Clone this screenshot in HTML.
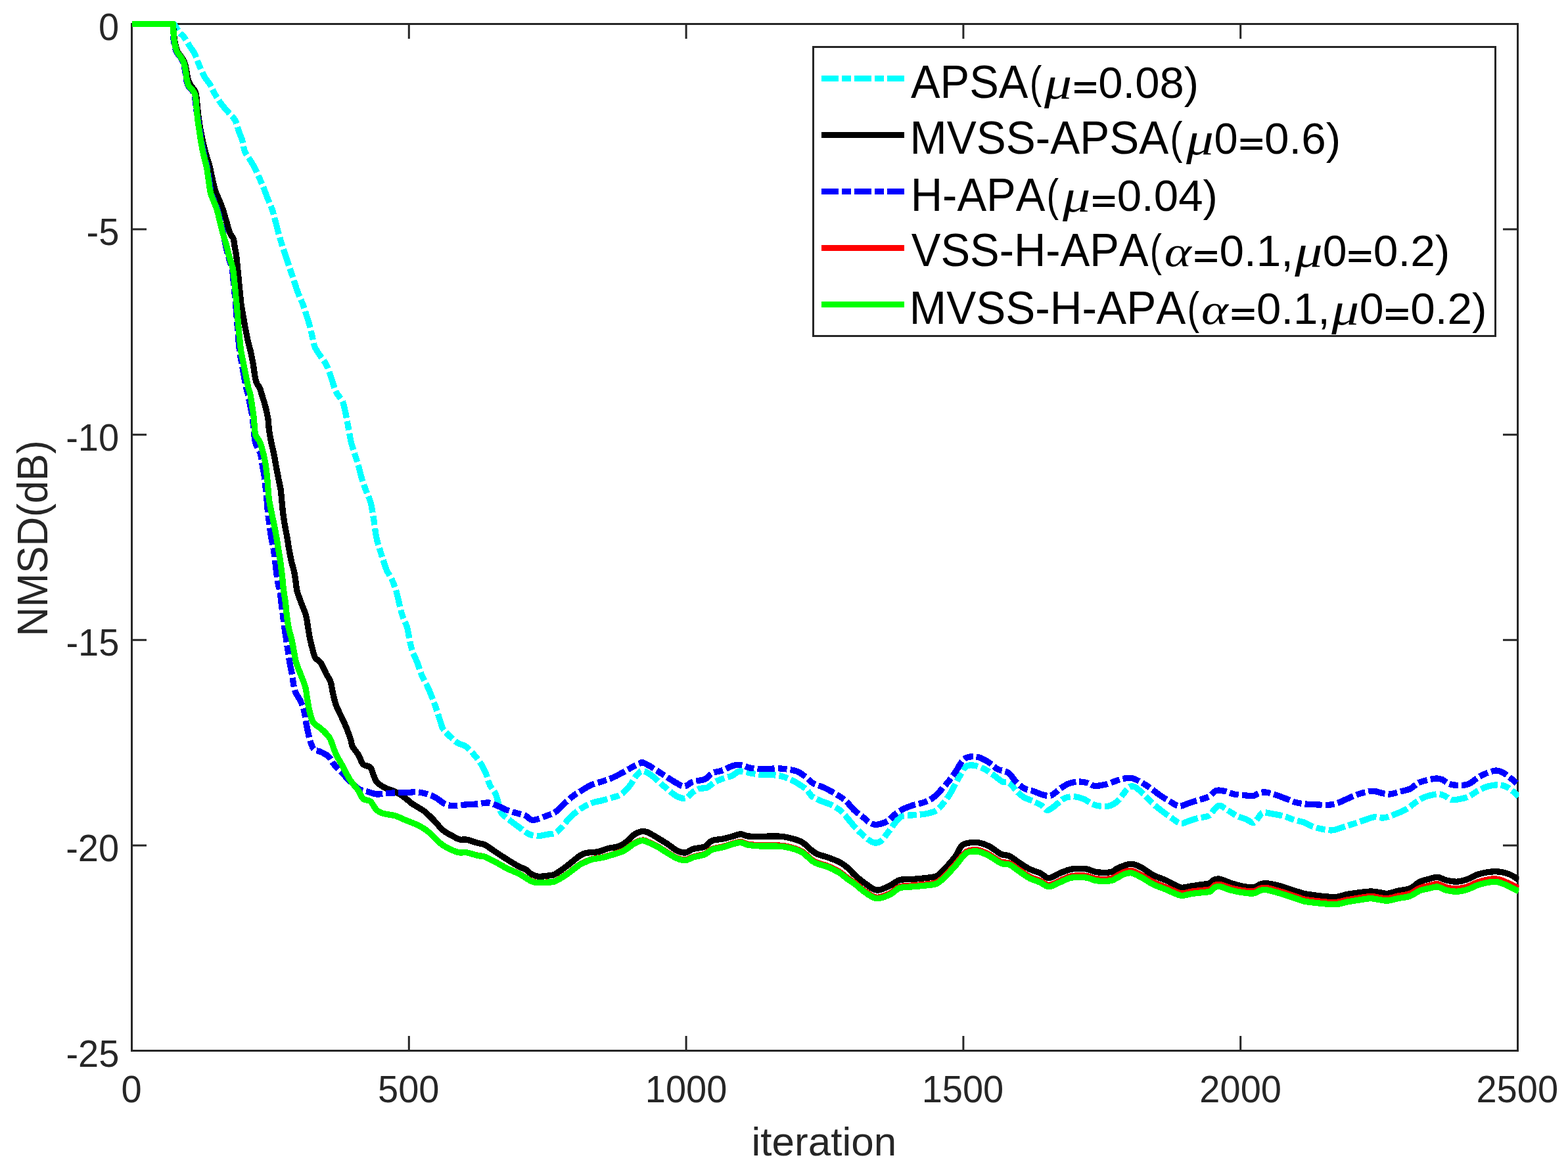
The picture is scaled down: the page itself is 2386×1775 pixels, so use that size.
<!DOCTYPE html>
<html lang="en"><head><meta charset="utf-8"><title>NMSD learning curves</title>
<style>html,body{margin:0;padding:0;background:#fff}body{width:2386px;height:1775px;overflow:hidden}svg{display:block}text{font-kerning:none;white-space:pre}.t{font-family:"Liberation Sans",sans-serif;fill:#262626}.lg{font-family:"Liberation Sans",sans-serif;fill:#000}.m{font-family:"Liberation Serif","DejaVu Serif",serif;font-style:italic;fill:#000}.e{font-family:"DejaVu Sans","Liberation Sans",sans-serif;fill:#000}.c{fill:none;stroke-width:9.3;stroke-linejoin:round;stroke-linecap:butt}</style></head><body>
<svg width="2386" height="1775" viewBox="0 0 2386 1775" role="img" aria-label="NMSD learning curves">
<rect x="0" y="0" width="2386" height="1775" fill="#fff"/>
<g stroke="#262626" stroke-width="3" fill="none" stroke-linecap="butt">
<rect x="200.5" y="36.5" width="2109" height="1563"/>
<path d="M622.3 1599.5V1577M622.3 36.5V59M1044.1 1599.5V1577M1044.1 36.5V59M1465.9 1599.5V1577M1465.9 36.5V59M1887.7 1599.5V1577M1887.7 36.5V59M200.5 349.1H223M2309.5 349.1H2287M200.5 661.7H223M2309.5 661.7H2287M200.5 974.3H223M2309.5 974.3H2287M200.5 1286.9H223M2309.5 1286.9H2287"/>
</g>
<clipPath id="cp"><rect x="199.5" y="30.5" width="2112" height="1575"/></clipPath>
<g clip-path="url(#cp)" shape-rendering="crispEdges">
<path class="c" stroke="#00ffff" stroke-dasharray="26 5 14 5" d="M200.5 36.5 L265 36.5C266.3 38.6 270.1 45.7 272.6 49C275.1 52.3 277.2 52.7 279.9 56.3C282.6 59.9 286.2 66.6 289 70.8C291.7 75 294 77.2 296.2 81.7C298.5 86.2 300.2 92.3 302.6 98C305 103.8 307.9 111.1 310.8 116.2C313.6 121.3 317.1 124.4 319.8 128.9C322.6 133.5 324.1 138.3 327.1 143.4C330.1 148.6 334.4 154.9 338 159.8C341.6 164.6 345.6 168.6 348.9 172.5C352.2 176.4 355.5 178.8 358 183.4C360.4 187.9 361.6 194.6 363.4 199.7C365.2 204.9 367.3 209.1 368.9 214.3C370.4 219.4 370.4 225.5 372.5 230.6C374.6 235.7 378.8 240.6 381.6 245.1C384.3 249.7 386.4 253 388.8 257.8C391.3 262.7 394 269.3 396.1 274.2C398.2 279 399.8 282.6 401.5 286.9C403.3 291.2 404.4 294.8 406.4 300C408.5 305.2 411.8 312.1 413.9 318.2C416 324.2 417.3 330.3 419 336.3C420.6 342.4 422 348.4 423.7 354.5C425.4 360.5 427.2 366.6 429.1 372.6C431 378.7 433.1 384.7 435.1 390.8C437.1 396.8 439.1 402.9 441.1 408.9C443.2 415 445.3 421 447.3 427.1C449.3 433.2 451 439.2 453.3 445.3C455.6 451.3 458.6 457.4 460.9 463.4C463.2 469.5 465 475.5 466.9 481.6C468.8 487.6 470.8 493.7 472.4 499.7C473.9 505.8 475.2 513 476.4 517.9C477.5 522.7 477.7 525.1 479.3 528.8C480.9 532.4 483.2 535.4 486 539.7C488.8 543.9 493.1 548.8 496 554.2C498.8 559.6 501 566.3 503.2 572.4C505.4 578.4 507.3 585.9 509 590.5C510.7 595.1 511.3 596.6 513.3 600C515.4 603.4 519.1 606.4 521.2 610.9C523.2 615.4 524.2 621.5 525.5 627.2C526.8 633 527.7 637.8 529.1 645.4C530.6 653 532.5 665.1 534.2 672.6C536 680.2 537.8 684.7 539.7 690.8C541.5 696.8 543.7 702.9 545.5 708.9C547.2 715 548.4 721 550.2 727.1C552 733.2 554.1 739.2 556.4 745.3C558.6 751.3 562 758.6 563.6 763.4C565.2 768.3 565.2 769.8 566 774.3C566.8 778.8 567.6 783.4 568.7 790.6C569.8 797.9 571.2 810.3 572.7 817.9C574.2 825.5 576 830 577.8 836C579.6 842.1 581.8 848.8 583.6 854.2C585.4 859.6 586.6 864.2 588.7 868.7C590.8 873.3 593.6 876.2 596 881.4C598.3 886.6 601.1 893.9 603 900C604.9 906.1 605.8 912.1 607.4 918.2C608.9 924.2 610.1 930.3 612.1 936.3C614.1 942.4 617.5 948.4 619.3 954.5C621.2 960.5 621.6 966.6 623 972.6C624.3 978.7 625.3 984.7 627.3 990.8C629.4 996.8 632.8 1002.9 635.1 1008.9C637.5 1015 638.9 1021 641.5 1027.1C644.1 1033.2 647.8 1039.2 650.6 1045.3C653.4 1051.3 655.8 1057.4 658.2 1063.4C660.6 1069.5 662.7 1075.5 664.7 1081.6C666.8 1087.6 669 1095.2 670.5 1099.7C672.1 1104.3 672 1105.8 673.8 1108.8C675.6 1111.8 677.7 1114.2 681.4 1117.9C685.1 1121.6 691.5 1127.8 696.1 1130.9C700.7 1134 704.6 1133.3 708.8 1136.3C713 1139.4 717.6 1144.5 721.5 1149.1C725.5 1153.6 729.4 1158.7 732.4 1163.6C735.4 1168.4 737.6 1173 739.7 1178.1C741.8 1183.2 742.7 1189.3 745.1 1194.4C747.5 1199.6 751.8 1203.5 754.2 1209C756.6 1214.4 758.1 1222.3 759.6 1227.1C761.2 1232 760.6 1234.4 763.3 1238C766 1241.7 771.4 1245.3 776 1248.9C780.5 1252.5 785.7 1256.3 790.5 1259.8C795.4 1263.3 800.2 1267.7 805 1269.8C809.9 1271.9 815 1272.4 819.6 1272.5C824.1 1272.6 828 1271.1 832.3 1270.3C836.5 1269.6 841.4 1269.7 845 1268C848.6 1266.2 850.4 1263.6 854.1 1259.8C857.7 1256 862.2 1249.8 866.8 1245.3C871.3 1240.7 875.8 1236.4 881.3 1232.6C886.8 1228.8 894.5 1224.9 900 1222.6C905.5 1220.3 909.4 1220.3 914.5 1219C919.7 1217.6 925.7 1216.1 930.9 1214.4C936 1212.8 940.9 1212 945.4 1209C949.9 1205.9 954.2 1201.1 958.1 1196.3C962 1191.4 965.7 1183.7 969 1179.9C972.3 1176.1 974.4 1173.6 978.1 1173.6C981.7 1173.6 986.5 1177 990.8 1179.9C995 1182.8 999 1186.9 1003.5 1190.8C1008 1194.7 1013.5 1199.9 1018 1203.5C1022.6 1207.2 1026.5 1210.6 1030.7 1212.6C1035 1214.6 1039.8 1216.2 1043.4 1215.3C1047.1 1214.4 1049.2 1209.6 1052.5 1207.2C1055.8 1204.7 1059.5 1202.2 1063.4 1200.8C1067.3 1199.4 1072.2 1200.6 1076.1 1199C1080.1 1197.3 1083.1 1193.1 1087 1190.8C1091 1188.5 1095.2 1187 1099.7 1185.4C1104.3 1183.7 1110.3 1182.6 1114.3 1180.8C1118.2 1179 1120.6 1175.5 1123.3 1174.5C1126.1 1173.4 1127 1173.9 1130.6 1174.4C1134.2 1174.9 1140 1176.6 1145.1 1177.5C1150.3 1178.4 1155.4 1179.2 1161.5 1179.6C1167.5 1180.1 1175.4 1179.3 1181.4 1180.1C1187.5 1180.8 1192.6 1182.4 1197.8 1184.4C1202.9 1186.3 1207.5 1188.8 1212.3 1191.7C1217.1 1194.6 1222.9 1198.2 1226.8 1201.7C1230.8 1205.2 1232.3 1209.7 1235.9 1212.6C1239.5 1215.5 1243.5 1216.7 1248.6 1219C1253.8 1221.2 1261.3 1223.3 1266.8 1226.2C1272.2 1229.1 1275.8 1230.9 1281.3 1236.2C1286.8 1241.5 1294.5 1251.9 1300 1258C1305.5 1264 1309.7 1268.4 1314.5 1272.5C1319.4 1276.6 1324.8 1281.1 1329.1 1282.5C1333.3 1283.9 1336 1283.6 1339.9 1280.7C1343.9 1277.8 1348.7 1270.2 1352.7 1265.3C1356.6 1260.3 1360.2 1254.5 1363.5 1250.7C1366.9 1246.9 1368.1 1244.2 1372.6 1242.6C1377.2 1240.9 1384.7 1241.3 1390.8 1240.7C1396.8 1240.1 1403.2 1240.1 1408.9 1238.9C1414.7 1237.7 1420.7 1236.4 1425.3 1233.5C1429.8 1230.6 1432.8 1225.8 1436.2 1221.7C1439.5 1217.6 1442.2 1213.8 1445.3 1209C1448.3 1204.1 1451.3 1198.1 1454.3 1192.6C1457.4 1187.2 1460.7 1180.7 1463.4 1176.3C1466.1 1171.9 1467.3 1168.1 1470.7 1166.3C1474 1164.5 1478.5 1164.5 1483.4 1165.4C1488.2 1166.3 1494.6 1169 1499.7 1171.7C1504.9 1174.5 1510 1178.7 1514.3 1181.7C1518.5 1184.8 1521.5 1188.2 1525.1 1189.9C1528.8 1191.6 1532.4 1189.3 1536 1191.7C1539.7 1194.1 1543.3 1200.8 1546.9 1204.4C1550.6 1208.1 1553.6 1210.9 1557.8 1213.5C1562.1 1216.1 1567.8 1217.7 1572.4 1219.9C1576.9 1222 1581.4 1223.9 1585.1 1226.2C1588.7 1228.5 1590.5 1233.6 1594.1 1233.5C1597.8 1233.3 1602.9 1228.2 1606.9 1225.3C1610.8 1222.4 1613.5 1218.4 1617.7 1216.2C1622 1214.1 1627.1 1212.6 1632.3 1212.6C1637.4 1212.6 1643.5 1214.3 1648.6 1216.2C1653.8 1218.2 1658.3 1222.5 1663.1 1224.4C1668 1226.3 1673.1 1227.2 1677.7 1227.5C1682.2 1227.8 1686.7 1227.5 1690.4 1226.2C1694.1 1224.9 1696.9 1222.7 1700 1219.9C1703.1 1217 1706.1 1212.6 1709.1 1209C1712.1 1205.3 1715.1 1199.9 1718.2 1198.1C1721.2 1196.3 1723.6 1196.3 1727.2 1198.1C1730.9 1199.9 1735.4 1204.7 1739.9 1209C1744.5 1213.2 1749.6 1219.1 1754.5 1223.5C1759.3 1227.9 1764.5 1231.8 1769 1235.3C1773.5 1238.8 1777.2 1241.3 1781.7 1244.4C1786.2 1247.4 1791.7 1252.5 1796.2 1253.5C1800.8 1254.4 1804.4 1251.2 1808.9 1249.8C1813.5 1248.5 1818.3 1246.6 1823.5 1245.3C1828.6 1243.9 1835.6 1244.1 1839.8 1241.7C1844 1239.2 1846.2 1233.3 1848.9 1230.8C1851.6 1228.2 1853.1 1225.9 1856.2 1226.2C1859.2 1226.5 1862.8 1230 1867 1232.6C1871.3 1235.1 1876.7 1239.2 1881.6 1241.7C1886.4 1244.1 1891.9 1245.3 1896.1 1247.1C1900.3 1248.9 1904 1252.8 1907 1252.5C1910 1252.2 1911.8 1247.9 1914.3 1245.3C1916.7 1242.7 1917.9 1238.2 1921.5 1237.1C1925.1 1236.1 1930.6 1238 1936 1238.9C1941.5 1239.8 1948.8 1241 1954.2 1242.6C1959.6 1244.1 1963.9 1246.5 1968.7 1248C1973.6 1249.5 1978.6 1250 1983.3 1251.6C1987.9 1253.3 1992.2 1256.3 1996.9 1258C2001.6 1259.7 2006.3 1261 2011.4 1262C2016.6 1263 2022.3 1264.3 2027.8 1263.8C2033.2 1263.3 2039 1260.5 2044.1 1258.9C2049.2 1257.3 2053.5 1256 2058.6 1254.4C2063.8 1252.7 2069.5 1250.7 2075 1248.9C2080.4 1247.2 2086.2 1244.5 2091.3 1243.8C2096.5 1243.2 2100.7 1245.6 2105.8 1244.9C2111 1244.3 2116.4 1242 2122.2 1239.8C2127.9 1237.6 2134.9 1234.8 2140.3 1231.7C2145.8 1228.5 2150.3 1223.8 2154.9 1220.8C2159.4 1217.7 2163.3 1215.3 2167.6 1213.5C2171.8 1211.7 2176.3 1210.6 2180.3 1209.9C2184.2 1209.1 2187.8 1208.5 2191.2 1209C2194.5 1209.4 2197.2 1211.1 2200.3 1212.6C2203.3 1214.1 2205.7 1217.1 2209.3 1217.7C2213 1218.3 2217.8 1217.1 2222 1216.2C2226.3 1215.4 2230.2 1214.7 2234.8 1212.6C2239.3 1210.5 2244.4 1206.1 2249.3 1203.5C2254.1 1201 2259 1198.6 2263.8 1197.2C2268.6 1195.7 2273.8 1194.8 2278.3 1194.8C2282.9 1194.8 2287.1 1195.6 2291 1197.2C2295 1198.8 2298.6 1201.9 2301.9 1204.4C2305.3 1207 2309.5 1211.2 2311 1212.6"/>
<path class="c" stroke="#000000" d="M200.5 36.5 L263.5 36.5C263.7 38.9 264 46.3 264.4 50.8C264.8 55.3 265 59 266 63.5C266.9 68.1 268.3 74.1 270 78.1C271.7 82 274.6 84.1 276.4 87.2C278.3 90.2 279.8 92.6 281.1 96.2C282.3 99.9 283.1 104.7 283.9 108.9C284.8 113.2 285.3 118 286.4 121.7C287.6 125.3 289.3 128 291 130.7C292.6 133.5 295.1 135.6 296.4 138C297.7 140.4 298 141 298.6 145.3C299.3 149.5 299.8 157.4 300.5 163.4C301.1 169.5 301.7 175.5 302.5 181.6C303.4 187.6 304.4 193.7 305.5 199.7C306.6 205.8 307.8 211.8 309.2 217.9C310.6 223.9 312.2 230 313.9 236C315.6 242.1 317.9 248.1 319.4 254.2C321 260.3 321.7 266.3 323.2 272.4C324.6 278.4 326.4 285.9 327.8 290.5C329.2 295.1 329.8 295.4 331.6 300C333.5 304.6 336.8 312.1 338.9 318.2C341 324.2 342.5 330.3 344.3 336.3C346.2 342.4 348 349.9 349.8 354.5C351.6 359 354.1 360.5 355.2 363.5C356.4 366.6 355.9 368.1 356.7 372.6C357.5 377.2 359 384.7 359.8 390.8C360.6 396.8 361 402.9 361.6 408.9C362.2 415 362.8 421 363.4 427.1C364 433.2 364.6 439.2 365.2 445.3C365.8 451.3 366.2 457.4 367 463.4C367.9 469.5 369.1 475.5 370.1 481.6C371.2 487.6 372.2 493.7 373.4 499.7C374.5 505.8 375.7 511.8 377 517.9C378.4 523.9 380.2 530 381.6 536C382.9 542.1 384.1 548.1 385.2 554.2C386.3 560.3 387 567.5 387.9 572.4C388.8 577.2 389.4 580.2 390.6 583.3C391.9 586.3 393.9 587.7 395.2 590.5C396.5 593.3 396.8 595.4 398.2 600C399.6 604.6 402.1 612.1 403.7 618.2C405.3 624.2 406.7 630.3 407.7 636.3C408.6 642.4 408.7 648.4 409.5 654.5C410.3 660.5 411.4 666.6 412.6 672.6C413.8 678.7 415.5 684.7 416.7 690.8C418 696.8 418.9 702.9 420 708.9C421.1 715 422.3 721 423.5 727.1C424.6 733.2 426.2 739.2 427.1 745.3C428 751.3 428.3 757.4 428.9 763.4C429.5 769.5 430 775.5 430.7 781.6C431.5 787.6 432.4 793.7 433.5 799.7C434.5 805.8 435.8 811.8 436.9 817.9C438 823.9 438.7 830 439.8 836C440.9 842.1 442.1 848.1 443.4 854.2C444.8 860.3 446.8 866.3 448 872.4C449.2 878.4 450 885.9 450.7 890.5C451.4 895.1 450.8 895.4 452.1 900C453.4 904.6 456.3 912.1 458.5 918.2C460.7 924.2 463.7 930.3 465.4 936.3C467.1 942.4 467.6 948.4 468.6 954.5C469.7 960.5 470.4 966.6 471.7 972.6C473 978.7 474.9 985.9 476.3 990.8C477.6 995.6 477.9 998.7 479.9 1001.7C481.9 1004.7 485.2 1004.7 488.1 1008.9C490.9 1013.2 494.6 1022.3 497.1 1027.1C499.7 1031.9 501.5 1033.2 503.1 1038C504.7 1042.8 505.3 1050.1 506.8 1056.2C508.2 1062.2 509.4 1068.3 511.7 1074.3C513.9 1080.4 517.6 1086.7 520.2 1092.5C522.8 1098.2 525.2 1103.1 527.5 1108.8C529.8 1114.6 532.5 1122.4 534 1127C535.5 1131.6 534.4 1132.7 536.3 1136.3C538.2 1140 542.7 1144.5 545.4 1149.1C548.1 1153.6 549.6 1160.4 552.7 1163.6C555.7 1166.8 560.8 1165.1 563.5 1168.1C566.3 1171.1 567.2 1177.8 569 1181.7C570.8 1185.7 571.4 1188.7 574.4 1191.7C577.5 1194.7 582.6 1197.6 587.2 1199.9C591.7 1202.2 596.8 1202.9 601.7 1205.3C606.5 1207.8 612 1211.4 616.2 1214.4C620.4 1217.4 622.3 1220.1 627.1 1223.5C631.9 1226.9 639.8 1230.6 645.3 1234.7C650.7 1238.9 654.9 1243.5 659.8 1248.3C664.6 1253.2 669.2 1259.7 674.3 1264C679.5 1268.2 686.4 1271.5 690.6 1273.8C694.9 1276.1 696.4 1277.2 699.7 1278C703.1 1278.7 706.1 1277.4 710.6 1278.3C715.2 1279.2 722.4 1282.1 727 1283.4C731.5 1284.7 733.3 1283.9 737.9 1286.1C742.4 1288.4 748.4 1293.2 754.2 1297C759.9 1300.8 766.3 1305.1 772.4 1308.8C778.4 1312.6 786 1317.3 790.5 1319.7C795.1 1322.1 796.6 1321.5 799.6 1323.4C802.6 1325.2 805.3 1328.8 808.7 1330.6C812 1332.4 815 1333.9 819.6 1334.3C824.1 1334.6 831.7 1333.4 835.9 1332.8C840.1 1332.2 840.4 1333.1 845 1330.6C849.5 1328.1 857.1 1322.5 863.1 1317.9C869.2 1313.4 876.8 1306.6 881.3 1303.4C885.8 1300.2 887.3 1299.8 890.4 1298.8C893.5 1297.9 896.6 1298 900 1297.6C903.4 1297.2 906.7 1297.5 910.9 1296.5C915.1 1295.5 920.6 1292.9 925.4 1291.6C930.3 1290.3 935.7 1290.2 939.9 1288.9C944.2 1287.5 946.9 1286.3 950.8 1283.4C954.8 1280.5 959.9 1274.4 963.5 1271.6C967.2 1268.8 969.6 1267.7 972.6 1266.7C975.7 1265.7 978.7 1265.3 981.7 1265.8C984.7 1266.3 987.5 1268.1 990.8 1269.8C994.1 1271.5 997.4 1273.6 1001.7 1276.2C1005.9 1278.7 1011.4 1282.1 1016.2 1285.2C1021 1288.4 1026.2 1293.1 1030.7 1295.2C1035.3 1297.3 1039.5 1298.4 1043.4 1297.9C1047.4 1297.5 1049.5 1294 1054.3 1292.5C1059.2 1291 1067.7 1291 1072.5 1288.9C1077.3 1286.7 1078.8 1281.7 1083.4 1279.8C1087.9 1277.8 1094.6 1278.1 1099.7 1277.1C1104.9 1276 1109.7 1274.6 1114.3 1273.4C1118.8 1272.2 1123 1269.9 1127 1269.8C1130.9 1269.7 1132.7 1272.3 1137.9 1272.9C1143 1273.5 1150.9 1273.4 1157.8 1273.4C1164.8 1273.4 1173 1272.7 1179.6 1272.9C1186.3 1273.1 1191.1 1273.2 1197.8 1274.7C1204.4 1276.2 1213.2 1278.2 1219.6 1281.6C1225.9 1285 1231.7 1292 1235.9 1295.2C1240.1 1298.4 1241.1 1299 1245 1300.7C1248.9 1302.3 1254.1 1303.2 1259.5 1305.2C1265 1307.2 1272.5 1309.7 1277.7 1312.5C1282.8 1315.2 1286.7 1318.4 1290.4 1321.5C1294.1 1324.7 1295.4 1327.4 1300 1331.5C1304.6 1335.6 1312.4 1342.1 1318.2 1346.1C1323.9 1350 1328.4 1354.8 1334.5 1355.1C1340.6 1355.5 1348.7 1350.7 1354.5 1348.1C1360.2 1345.5 1363.5 1341.2 1369 1339.6C1374.4 1338 1380.5 1339.2 1387.2 1338.6C1393.8 1338.1 1402.6 1337.3 1408.9 1336.5C1415.3 1335.6 1420.4 1335.9 1425.3 1333.5C1430.1 1331.1 1433.2 1327.1 1438 1322.1C1442.8 1317 1450.1 1308.9 1454.3 1303.1C1458.6 1297.3 1460.1 1290.7 1463.4 1287.3C1466.7 1284 1470.1 1283.9 1474.3 1283.1C1478.5 1282.3 1483.7 1281.8 1488.8 1282.6C1494 1283.5 1499.4 1285.3 1505.2 1288.3C1510.9 1291.2 1518.2 1297.8 1523.3 1300.3C1528.5 1302.7 1531.5 1300.9 1536 1303.1C1540.6 1305.2 1545.4 1309.7 1550.6 1313.1C1555.7 1316.4 1561.5 1320.3 1566.9 1323.1C1572.4 1325.8 1578.4 1327.1 1583.3 1329.4C1588.1 1331.7 1591.1 1336.7 1596 1336.7C1600.8 1336.7 1607.2 1331.5 1612.3 1329.4C1617.4 1327.3 1622.9 1325.1 1626.8 1324C1630.8 1322.8 1631.4 1322.7 1635.9 1322.5C1640.4 1322.4 1648.6 1322.2 1654.1 1323.1C1659.5 1323.9 1662.5 1326.8 1668.6 1327.6C1674.6 1328.3 1685.1 1328.5 1690.4 1327.6C1695.6 1326.7 1696.6 1323.8 1700 1322.1C1703.4 1320.5 1707.3 1318.8 1710.9 1317.6C1714.5 1316.5 1717.6 1314.8 1721.8 1315.2C1726 1315.7 1730.9 1317.5 1736.3 1320.3C1741.8 1323.1 1748.4 1329 1754.5 1332.1C1760.5 1335.3 1767.2 1337 1772.6 1339.4C1778.1 1341.8 1782.9 1344.7 1787.2 1346.7C1791.4 1348.6 1793.8 1350.8 1798 1351.2C1802.3 1351.6 1807.7 1349.8 1812.6 1349C1817.4 1348.3 1822.6 1347.4 1827.1 1346.7C1831.6 1346 1836.5 1346.1 1839.8 1344.8C1843.1 1343.6 1844.3 1340.5 1847.1 1339.4C1849.8 1338.3 1851.9 1337.4 1856.2 1338.2C1860.4 1339 1867 1342.3 1872.5 1344.1C1877.9 1345.9 1883.1 1347.7 1888.8 1348.8C1894.6 1349.9 1902.1 1351.1 1907 1350.7C1911.8 1350.2 1914.6 1347.1 1917.9 1346.1C1921.2 1345.1 1922.4 1344.4 1927 1344.7C1931.5 1345 1939.7 1346.7 1945.1 1348C1950.6 1349.3 1954.5 1350.8 1959.6 1352.5C1964.8 1354.2 1971.6 1356.6 1976 1357.9C1980.4 1359.3 1981.3 1359.8 1986 1360.7C1990.7 1361.6 1998.1 1362.6 2004.2 1363.4C2010.2 1364.2 2017.2 1364.9 2022.3 1365.2C2027.5 1365.5 2030.5 1365.8 2035 1365.2C2039.6 1364.6 2044.1 1362.6 2049.5 1361.6C2055 1360.5 2061.7 1359.6 2067.7 1358.9C2073.8 1358.1 2080.7 1357.1 2085.9 1357C2091 1357 2094.3 1357.9 2098.6 1358.5C2102.8 1359 2106.4 1360.7 2111.3 1360.3C2116.1 1359.9 2121.9 1357.4 2127.6 1356.1C2133.4 1354.8 2140.3 1354.8 2145.8 1352.5C2151.2 1350.2 2155.5 1344.9 2160.3 1342.5C2165.1 1340.1 2170.3 1339.2 2174.8 1338C2179.4 1336.8 2183.3 1335 2187.5 1335.3C2191.8 1335.6 2195.4 1338.6 2200.3 1339.8C2205.1 1340.9 2211.1 1342.4 2216.6 1342.2C2222 1341.9 2227.8 1340.3 2232.9 1338.5C2238.1 1336.8 2242.6 1333.4 2247.5 1331.6C2252.3 1329.9 2257.1 1328.8 2262 1328C2266.8 1327.2 2271.7 1326.6 2276.5 1326.7C2281.4 1326.9 2286.8 1327.8 2291 1328.9C2295.3 1330 2298.6 1331.6 2301.9 1333.4C2305.3 1335.3 2309.5 1338.7 2311 1339.8"/>
<path class="c" stroke="#0000ff" stroke-dasharray="26 5 14 5" d="M200.5 36.5 L263.5 36.5C263.5 38.9 263.1 46.3 263.3 50.8C263.5 55.3 263.7 59 264.6 63.5C265.4 68.1 266.5 74.1 268.2 78.1C269.9 82 272.7 84.1 274.6 87.2C276.4 90.2 277.9 92.6 279.1 96.2C280.3 99.9 281.1 104.7 281.8 108.9C282.6 113.2 282.9 118 283.6 121.7C284.4 125.3 284.8 128 286.4 130.7C287.9 133.5 291 135.6 292.7 138C294.4 140.4 295.4 141 296.3 145.3C297.2 149.5 297.3 157.4 298.2 163.4C299 169.5 300.3 175.5 301.4 181.6C302.4 187.6 303.5 193.7 304.5 199.7C305.5 205.8 306.1 211.8 307.2 217.9C308.3 223.9 309.5 230 310.8 236C312.2 242.1 314.1 248.1 315.3 254.2C316.6 260.3 317.2 266.3 318.1 272.4C319 278.4 319.9 285.9 320.8 290.5C321.7 295.1 321.8 295.4 323.5 300C325.2 304.6 328.8 312.1 330.7 318.2C332.7 324.2 333.8 330.3 335.3 336.3C336.8 342.4 338.5 348.4 339.8 354.5C341.1 360.5 341.8 366.6 343.1 372.6C344.4 378.7 346 384.7 347.6 390.8C349.3 396.8 351.8 402.9 353 408.9C354.3 415 354.5 421 355.1 427.1C355.8 433.2 356.3 439.2 356.9 445.3C357.5 451.3 358.1 457.4 358.7 463.4C359.2 469.5 359.6 475.5 360.1 481.6C360.5 487.6 361 493.7 361.5 499.7C361.9 505.8 362.4 511.8 362.9 517.9C363.5 523.9 363.9 530 364.8 536C365.6 542.1 367 548.1 368 554.2C369.1 560.3 370.2 566.3 371.3 572.4C372.4 578.4 373.6 585.9 374.6 590.5C375.6 595.1 376.1 595.4 377.2 600C378.2 604.6 379.6 612.1 380.8 618.2C382 624.2 383.6 630.3 384.4 636.3C385.3 642.4 385.2 648.4 385.9 654.5C386.5 660.5 387.5 668.1 388.4 672.6C389.4 677.2 390.4 678.7 391.7 681.7C393 684.7 395 686.2 396.2 690.8C397.5 695.3 398.3 702.9 399.3 708.9C400.4 715 401.7 721 402.6 727.1C403.4 733.2 403.8 739.2 404.4 745.3C405 751.3 405.7 757.4 406.2 763.4C406.8 769.5 407 775.5 407.7 781.6C408.3 787.6 409.4 793.7 410.2 799.7C411 805.8 411.6 811.8 412.6 817.9C413.6 823.9 415.2 830 416.2 836C417.2 842.1 417.8 848.1 418.6 854.2C419.3 860.3 419.9 866.3 420.7 872.4C421.6 878.4 422.6 885.9 423.5 890.5C424.3 895.1 425.2 895.4 426 900C426.7 904.6 427.4 912.1 428.1 918.2C428.9 924.2 429.6 930.3 430.3 936.3C431.1 942.4 431.8 948.4 432.7 954.5C433.5 960.5 434.5 966.6 435.4 972.6C436.3 978.7 437.2 984.7 438.1 990.8C439 996.8 439.8 1002.9 440.9 1008.9C441.9 1015 443.4 1021 444.5 1027.1C445.5 1033.2 446.3 1040.7 447.2 1045.3C448.1 1049.8 448.3 1050.7 449.9 1054.3C451.6 1058 455.1 1062.5 457.2 1067C459.3 1071.6 461.2 1076.1 462.6 1081.6C464.1 1087 464.6 1093.7 465.7 1099.7C466.8 1105.8 468.1 1112.4 469.4 1117.9C470.7 1123.3 472.1 1128.5 473.5 1132.4C475 1136.3 476 1139.3 478.3 1141.3C480.5 1143.3 483.6 1142.5 487.2 1144.2C490.8 1145.9 496.4 1148.3 499.9 1151.5C503.3 1154.7 504.4 1158.8 508 1163.3C511.7 1167.7 517.1 1173.2 521.8 1178.1C526.5 1183 532.1 1188.7 536.3 1192.6C540.6 1196.6 543.3 1199.6 547.2 1201.7C551.1 1203.8 555.7 1204.1 559.9 1205.3C564.2 1206.5 568.4 1208.5 572.6 1209C576.9 1209.4 580.5 1208.4 585.3 1208.1C590.2 1207.7 596.2 1207 601.7 1206.8C607.1 1206.6 612.6 1207 618 1206.8C623.5 1206.6 628.9 1205.3 634.4 1205.7C639.8 1206.1 645.9 1207.5 650.7 1209C655.5 1210.4 658.9 1211.8 663.4 1214.4C668 1217 673.1 1222.3 677.9 1224.4C682.8 1226.5 687.3 1226.7 692.5 1226.8C697.6 1226.9 703.1 1225.4 708.8 1224.9C714.6 1224.5 721.2 1224.3 727 1223.9C732.7 1223.4 738.2 1221.5 743.3 1222C748.4 1222.6 753 1225.2 757.8 1227.1C762.7 1229 767.5 1231.7 772.4 1233.5C777.2 1235.3 782.3 1236.7 786.9 1238C791.4 1239.4 796 1240 799.6 1241.7C803.2 1243.3 805.6 1247.1 808.7 1248C811.7 1248.9 813.8 1248.2 817.7 1247.1C821.7 1246 827.7 1243.5 832.3 1241.7C836.8 1239.8 840.7 1239.1 845 1236.2C849.2 1233.3 853.2 1228.5 857.7 1224.4C862.2 1220.3 867.7 1215.2 872.2 1211.7C876.8 1208.2 880.3 1206.3 884.9 1203.5C889.6 1200.7 894.5 1197.2 900 1194.8C905.5 1192.4 913 1190.7 918.2 1189C923.3 1187.3 926.3 1186.4 930.9 1184.5C935.4 1182.5 940.6 1179.8 945.4 1177.2C950.2 1174.6 955.4 1171.4 959.9 1169C964.5 1166.6 969.6 1164 972.6 1162.7C975.7 1161.3 975.4 1160.2 978.1 1160.9C980.8 1161.5 985 1164 989 1166.3C992.9 1168.6 997.4 1171.7 1001.7 1174.5C1005.9 1177.2 1009.9 1179.8 1014.4 1182.6C1018.9 1185.5 1024.4 1189.3 1028.9 1191.7C1033.5 1194.1 1037.4 1197.5 1041.6 1197.2C1045.9 1196.9 1049.2 1191.7 1054.3 1189.9C1059.5 1188.1 1067.7 1188.4 1072.5 1186.3C1077.3 1184.2 1078.8 1179.5 1083.4 1177.2C1087.9 1174.9 1094.3 1174.6 1099.7 1172.7C1105.2 1170.7 1111.2 1166.8 1116.1 1165.4C1120.9 1164 1124.5 1163.9 1128.8 1164.5C1133 1165.1 1136 1168 1141.5 1169C1146.9 1170.1 1153.9 1170.7 1161.5 1170.8C1169 1171 1178.4 1169.4 1186.9 1169.9C1195.4 1170.5 1205.6 1171.8 1212.3 1174.1C1219 1176.4 1222.6 1180.5 1226.8 1183.5C1231.1 1186.6 1233.2 1190.1 1237.7 1192.6C1242.3 1195.2 1248.3 1196.3 1254.1 1199C1259.8 1201.7 1266.8 1205.6 1272.2 1209C1277.7 1212.3 1282.1 1214.9 1286.7 1219C1291.4 1223 1295.7 1229.4 1300 1233.5C1304.3 1237.6 1308.8 1240.3 1312.7 1243.5C1316.6 1246.6 1320 1250.6 1323.6 1252.5C1327.2 1254.5 1330 1255.7 1334.5 1255.3C1339 1254.8 1346.3 1252.4 1350.8 1249.8C1355.4 1247.3 1357.8 1242.9 1361.7 1239.8C1365.7 1236.8 1369.6 1234.1 1374.4 1231.7C1379.3 1229.2 1385.6 1227 1390.8 1225.3C1395.9 1223.6 1400.5 1223.5 1405.3 1221.7C1410.2 1219.9 1415 1218 1419.8 1214.4C1424.7 1210.8 1430.1 1204.4 1434.4 1199.9C1438.6 1195.4 1441.9 1191.4 1445.3 1187.2C1448.6 1182.9 1451.3 1179 1454.3 1174.5C1457.4 1169.9 1460.4 1163.6 1463.4 1159.9C1466.4 1156.3 1468.3 1153.9 1472.5 1152.7C1476.7 1151.5 1483.4 1151.3 1488.8 1152.7C1494.3 1154 1500.3 1157.8 1505.2 1160.9C1510 1163.9 1513 1168.3 1517.9 1170.8C1522.7 1173.4 1529.7 1173.3 1534.2 1176.3C1538.8 1179.3 1541.2 1185.1 1545.1 1189C1549.1 1192.9 1553.3 1197.3 1557.8 1199.9C1562.4 1202.5 1567.5 1202.8 1572.4 1204.4C1577.2 1206.1 1582.3 1208.8 1586.9 1209.9C1591.4 1210.9 1595.1 1212.4 1599.6 1210.8C1604.1 1209.1 1609.6 1202.9 1614.1 1199.9C1618.7 1196.9 1622.3 1194.3 1626.8 1192.6C1631.4 1191 1636.8 1190.1 1641.4 1189.9C1645.9 1189.8 1650.1 1190.7 1654.1 1191.7C1658 1192.8 1660.4 1195.8 1665 1196.3C1669.5 1196.7 1675.5 1195.8 1681.3 1194.4C1687.1 1193.1 1695.4 1189.6 1700 1188.1C1704.6 1186.6 1705.4 1186 1709.1 1185.4C1712.7 1184.8 1717.2 1183.5 1721.8 1184.5C1726.3 1185.4 1731.5 1188.2 1736.3 1190.8C1741.2 1193.4 1746 1196.6 1750.8 1199.9C1755.7 1203.2 1760.5 1207.5 1765.4 1210.8C1770.2 1214.1 1775 1217.1 1779.9 1219.9C1784.7 1222.6 1789.6 1226.7 1794.4 1227.1C1799.3 1227.6 1804.1 1224.1 1808.9 1222.6C1813.8 1221.1 1818.3 1219.7 1823.5 1218C1828.6 1216.4 1835.3 1215 1839.8 1212.6C1844.3 1210.2 1846.8 1204.9 1850.7 1203.5C1854.6 1202.2 1858.9 1203.5 1863.4 1204.4C1868 1205.3 1872.8 1207.9 1877.9 1209C1883.1 1210 1889.4 1210.3 1894.3 1210.8C1899.1 1211.2 1903.4 1212.3 1907 1211.7C1910.6 1211.1 1912.7 1208.1 1916.1 1207.2C1919.4 1206.2 1922.4 1205.6 1927 1206.2C1931.5 1206.9 1938.2 1209.1 1943.3 1210.8C1948.4 1212.4 1953 1214.4 1957.8 1216.2C1962.7 1218 1967.7 1220.4 1972.4 1221.7C1977.1 1223 1980.7 1223.3 1986 1223.9C1991.3 1224.4 1998.1 1224.7 2004.2 1224.9C2010.2 1225.2 2017.2 1225.7 2022.3 1225.3C2027.5 1224.9 2030.8 1223.9 2035 1222.6C2039.3 1221.2 2042.9 1219.3 2047.7 1217.1C2052.6 1215 2058.6 1211.8 2064.1 1209.9C2069.5 1207.9 2075.9 1206.2 2080.4 1205.3C2085 1204.4 2087.7 1204.1 2091.3 1204.4C2094.9 1204.7 2098.3 1206.4 2102.2 1207.2C2106.1 1207.9 2110.4 1209.3 2114.9 1209C2119.5 1208.7 2124.3 1206.7 2129.4 1205.3C2134.6 1204 2140.9 1203.1 2145.8 1200.8C2150.6 1198.5 2154 1194 2158.5 1191.7C2163 1189.5 2168.5 1188.3 2173 1187.2C2177.6 1186.1 2182.1 1185.1 2185.7 1185C2189.4 1184.9 2191.5 1185.4 2194.8 1186.8C2198.1 1188.2 2201.5 1192.1 2205.7 1193.5C2209.9 1195 2215.4 1195.4 2220.2 1195.4C2225.1 1195.4 2229.9 1195.5 2234.8 1193.5C2239.6 1191.6 2244.4 1186.4 2249.3 1183.5C2254.1 1180.7 2259.3 1178 2263.8 1176.3C2268.3 1174.5 2272.9 1173.2 2276.5 1173C2280.1 1172.9 2282.3 1173.8 2285.6 1175.4C2288.9 1177 2292.6 1179.6 2296.5 1182.6C2300.4 1185.7 2307.1 1191.7 2309.2 1193.5"/>
<path class="c" stroke="#ff0000" d="M200.5 36.5 L263.5 36.5C263.6 38.9 263.8 46.3 264.1 50.8C264.4 55.3 264.5 59 265.4 63.5C266.2 68.1 267.3 74.1 269 78.1C270.7 82 273.5 84.1 275.4 87.2C277.2 90.2 278.7 92.6 279.9 96.2C281.1 99.9 281.9 104.7 282.6 108.9C283.4 113.2 283.7 118 284.4 121.7C285.2 125.3 285.6 128 287.2 130.7C288.7 133.5 291.8 135.6 293.5 138C295.2 140.4 296.2 141 297.1 145.3C298 149.5 298.4 157.4 299 163.4C299.6 169.5 300 175.5 300.8 181.6C301.5 187.6 302.6 193.7 303.5 199.7C304.4 205.8 305.2 211.8 306.2 217.9C307.3 223.9 308.5 230 309.9 236C311.2 242.1 313.2 248.1 314.4 254.2C315.6 260.3 316.2 266.3 317.1 272.4C318 278.4 318.9 285.9 319.8 290.5C320.7 295.1 320.9 295.4 322.6 300C324.2 304.6 327.9 312.1 329.8 318.2C331.8 324.2 332.8 330.3 334.4 336.3C335.9 342.4 337.2 348.4 338.9 354.5C340.6 360.5 342.7 366.6 344.3 372.6C346 378.7 347.2 384.7 348.9 390.8C350.6 396.8 353.1 402.9 354.3 408.9C355.6 415 355.8 421 356.5 427.1C357.2 433.2 357.7 439.2 358.3 445.3C358.9 451.3 359.6 457.4 360.1 463.4C360.7 469.5 361.1 475.5 361.6 481.6C362.1 487.6 362.5 493.7 363.1 499.7C363.6 505.8 364.2 511.8 364.9 517.9C365.5 523.9 366.1 530 367 536C368 542.1 369.5 548.1 370.7 554.2C371.9 560.3 373.1 566.3 374.3 572.4C375.5 578.4 376.9 585.9 377.9 590.5C379 595.1 379.8 595.4 380.8 600C381.8 604.6 382.8 612.1 383.7 618.2C384.6 624.2 385.6 630.3 386.2 636.3C386.9 642.4 387.2 649.9 387.7 654.5C388.2 659 388.1 660.5 389.3 663.5C390.6 666.6 393.4 668.1 395.3 672.6C397.2 677.2 399.3 684.7 400.8 690.8C402.3 696.8 403.4 702.9 404.4 708.9C405.4 715 406 721 406.6 727.1C407.2 733.2 407.5 739.2 408 745.3C408.6 751.3 408.9 757.4 409.9 763.4C410.8 769.5 412.2 775.5 413.5 781.6C414.7 787.6 416.1 793.7 417.3 799.7C418.5 805.8 419.7 811.8 420.7 817.9C421.8 823.9 422.7 830 423.6 836C424.6 842.1 425.7 848.1 426.6 854.2C427.4 860.3 428.2 866.3 428.9 872.4C429.6 878.4 430.3 885.9 430.7 890.5C431.2 895.1 431.1 895.4 431.8 900C432.4 904.6 433.7 912.1 434.5 918.2C435.3 924.2 435.6 930.3 436.3 936.3C437.1 942.4 437.8 948.4 439 954.5C440.2 960.5 442.2 966.6 443.6 972.6C444.9 978.7 446 984.7 447.2 990.8C448.4 996.8 449.1 1002.9 450.8 1008.9C452.6 1015 455.5 1021 457.7 1027.1C460 1033.2 462.8 1039.2 464.5 1045.3C466.1 1051.3 466.5 1057.4 467.5 1063.4C468.6 1069.5 469.3 1075.5 470.8 1081.6C472.3 1087.6 473.8 1095.2 476.6 1099.7C479.5 1104.3 484.8 1106 488 1108.8C491.2 1111.6 493.5 1113.7 496 1116.5C498.4 1119.3 500.2 1120.3 502.7 1125.4C505.2 1130.6 507.7 1140.3 510.9 1147.2C514.1 1154.2 518.2 1160.6 521.8 1167.2C525.4 1173.9 528.7 1181.1 532.7 1187.2C536.6 1193.2 542.1 1198.7 545.4 1203.5C548.7 1208.4 549.6 1213.5 552.7 1216.2C555.7 1219 560.2 1217.1 563.5 1219.9C566.9 1222.6 569.6 1229.5 572.6 1232.6C575.7 1235.6 576.9 1236.4 581.7 1238C586.5 1239.6 595.6 1240.2 601.7 1242C607.7 1243.8 612 1246.4 618 1248.9C624.1 1251.4 631.9 1253.9 638 1257.1C644 1260.3 648.6 1263.4 654.3 1268.2C660.1 1272.9 666.4 1281.1 672.5 1285.6C678.5 1290.1 686.1 1293.2 690.6 1295.3C695.2 1297.3 696.4 1297.5 699.7 1297.9C703.1 1298.4 706.1 1297.2 710.6 1297.9C715.2 1298.7 722.4 1301.4 727 1302.4C731.5 1303.5 733.3 1302.6 737.9 1304.2C742.4 1305.9 748.4 1309.3 754.2 1312.4C759.9 1315.4 766.3 1319.3 772.4 1322.3C778.4 1325.3 784.5 1327.3 790.5 1330.4C796.6 1333.6 803.8 1339.1 808.7 1341.3C813.5 1343.5 815 1343.2 819.6 1343.5C824.1 1343.7 831.7 1343.1 835.9 1342.7C840.1 1342.3 840.4 1343.3 845 1341.2C849.5 1339.2 857.1 1334.4 863.1 1330.3C869.2 1326.2 876.8 1319.7 881.3 1316.6C885.8 1313.6 887.3 1313.5 890.4 1312.1C893.5 1310.7 895.4 1309.3 900 1308.1C904.6 1306.9 912.1 1306.2 918.2 1304.8C924.2 1303.3 931.2 1301 936.3 1299.3C941.5 1297.6 944.5 1297.1 949 1294.7C953.6 1292.3 959.6 1287.1 963.5 1284.7C967.5 1282.3 969.9 1281.1 972.6 1280.1C975.4 1279.2 976.9 1278.6 979.9 1279.2C982.9 1279.8 987.2 1282.1 990.8 1283.7C994.4 1285.4 997.4 1286.8 1001.7 1289.2C1005.9 1291.6 1011.4 1295.3 1016.2 1298.2C1021 1301.1 1026.2 1304.5 1030.7 1306.3C1035.3 1308.1 1039.5 1309.3 1043.4 1309C1047.4 1308.7 1049.5 1306 1054.3 1304.4C1059.2 1302.9 1067.7 1301.8 1072.5 1299.8C1077.3 1297.9 1078.8 1294.4 1083.4 1292.5C1087.9 1290.7 1094.6 1290.2 1099.7 1288.9C1104.9 1287.5 1109.7 1285.5 1114.3 1284.3C1118.8 1283.1 1123 1281.4 1127 1281.5C1130.9 1281.7 1132.7 1284.2 1137.9 1285.1C1143 1286 1150.9 1286.6 1157.8 1286.9C1164.8 1287.2 1173 1286.5 1179.6 1286.8C1186.3 1287.1 1191.1 1287.1 1197.8 1288.6C1204.4 1290.1 1213.2 1292.3 1219.6 1295.8C1225.9 1299.2 1231.7 1306.3 1235.9 1309.3C1240.1 1312.4 1241.1 1312.4 1245 1313.9C1248.9 1315.4 1254.1 1316.1 1259.5 1318.3C1265 1320.6 1272.5 1324.2 1277.7 1327.4C1282.8 1330.5 1286.7 1334.6 1290.4 1337.3C1294.1 1340 1295.4 1340.2 1300 1343.6C1304.6 1347.1 1312.4 1354.4 1318.2 1358.1C1323.9 1361.9 1328.4 1365.9 1334.5 1366.2C1340.6 1366.5 1348.7 1362.6 1354.5 1359.9C1360.2 1357.2 1363.5 1352.1 1369 1350.2C1374.4 1348.2 1380.5 1348.8 1387.2 1348.1C1393.8 1347.5 1402.6 1347 1408.9 1346.1C1415.3 1345.3 1420.4 1345.4 1425.3 1343.3C1430.1 1341.1 1433.2 1337.6 1438 1333C1442.8 1328.3 1449.5 1320.9 1454.3 1315.3C1459.2 1309.8 1463.7 1303 1467 1299.7C1470.4 1296.3 1470.7 1295.9 1474.3 1295C1477.9 1294.1 1483.7 1293.3 1488.8 1294.2C1494 1295.2 1499.4 1297.9 1505.2 1300.9C1510.9 1303.8 1518.2 1309.9 1523.3 1312.1C1528.5 1314.3 1531.5 1312 1536 1314C1540.6 1316 1545.4 1320.5 1550.6 1323.9C1555.7 1327.4 1561.5 1331.9 1566.9 1334.8C1572.4 1337.6 1578.4 1339 1583.3 1341.1C1588.1 1343.2 1591.1 1347.4 1596 1347.4C1600.8 1347.4 1607.2 1343.1 1612.3 1341C1617.4 1338.9 1622.9 1335.9 1626.8 1334.6C1630.8 1333.3 1631.4 1333.3 1635.9 1333.1C1640.4 1332.9 1648.6 1332.7 1654.1 1333.5C1659.5 1334.3 1662.5 1337.2 1668.6 1337.8C1674.6 1338.5 1685.1 1338.4 1690.4 1337.6C1695.6 1336.7 1696.6 1334.6 1700 1332.9C1703.4 1331.2 1707.3 1328.6 1710.9 1327.3C1714.5 1326.1 1717.6 1324.7 1721.8 1325.4C1726 1326.1 1730.9 1328.9 1736.3 1331.8C1741.8 1334.7 1748.4 1339.7 1754.5 1342.7C1760.5 1345.7 1767.2 1347.7 1772.6 1350C1778.1 1352.3 1782.9 1354.7 1787.2 1356.4C1791.4 1358 1793.8 1359.9 1798 1360C1802.3 1360.2 1807.7 1358.1 1812.6 1357.3C1817.4 1356.6 1822.3 1356.1 1827.1 1355.5C1831.9 1354.9 1838 1355.1 1841.6 1353.7C1845.3 1352.4 1846.2 1348.5 1848.9 1347.4C1851.6 1346.2 1854 1346 1858 1346.8C1861.9 1347.5 1867.3 1350.3 1872.5 1351.7C1877.6 1353.1 1883.1 1354.3 1888.8 1355.2C1894.6 1356 1902.1 1357.4 1907 1356.9C1911.8 1356.4 1914.6 1353.3 1917.9 1352.4C1921.2 1351.5 1922.4 1350.9 1927 1351.5C1931.5 1352.1 1939.7 1354.5 1945.1 1356.1C1950.6 1357.6 1954.5 1358.9 1959.6 1360.6C1964.8 1362.3 1971.6 1364.6 1976 1366.1C1980.4 1367.6 1981.3 1368.5 1986 1369.4C1990.7 1370.3 1998.1 1370.9 2004.2 1371.6C2010.2 1372.3 2017.2 1373.1 2022.3 1373.4C2027.5 1373.7 2030.5 1373.9 2035 1373.3C2039.6 1372.8 2044.1 1371.1 2049.5 1370C2055 1369 2061.7 1367.8 2067.7 1366.9C2073.8 1366 2080.7 1364.6 2085.9 1364.5C2091 1364.4 2094.3 1365.8 2098.6 1366.3C2102.8 1366.9 2106.4 1368.1 2111.3 1367.7C2116.1 1367.3 2121.9 1365.3 2127.6 1364C2133.4 1362.8 2140.3 1362.3 2145.8 1360.3C2151.2 1358.3 2155.5 1354 2160.3 1352C2165.1 1349.9 2170.3 1349.2 2174.8 1348.1C2179.4 1347.1 2183.3 1345.2 2187.5 1345.6C2191.8 1346 2195.4 1349.4 2200.3 1350.6C2205.1 1351.8 2211.1 1353 2216.6 1352.8C2222 1352.7 2227.8 1351.3 2232.9 1349.7C2238.1 1348.1 2242.6 1345.1 2247.5 1343.4C2252.3 1341.6 2257.1 1340.3 2262 1339.4C2266.8 1338.5 2271.7 1337.4 2276.5 1337.9C2281.4 1338.4 2286.8 1340.8 2291 1342.5C2295.3 1344.1 2298.6 1346.2 2301.9 1347.9C2305.3 1349.6 2309.5 1351.7 2311 1352.4"/>
<path class="c" stroke="#00ff00" d="M200.5 36.5 L263.5 36.5C263.6 38.9 263.8 46.3 264.1 50.8C264.4 55.3 264.5 59 265.4 63.5C266.2 68.1 267.3 74.1 269 78.1C270.7 82 273.5 84.1 275.4 87.2C277.2 90.2 278.7 92.6 279.9 96.2C281.1 99.9 281.9 104.7 282.6 108.9C283.4 113.2 283.7 118 284.4 121.7C285.2 125.3 285.6 128 287.2 130.7C288.7 133.5 291.8 135.6 293.5 138C295.2 140.4 296.2 141 297.1 145.3C298 149.5 298.4 157.4 299 163.4C299.6 169.5 300 175.5 300.8 181.6C301.5 187.6 302.6 193.7 303.5 199.7C304.4 205.8 305.2 211.8 306.2 217.9C307.3 223.9 308.5 230 309.9 236C311.2 242.1 313.2 248.1 314.4 254.2C315.6 260.3 316.2 266.3 317.1 272.4C318 278.4 318.9 285.9 319.8 290.5C320.7 295.1 320.9 295.4 322.6 300C324.2 304.6 327.9 312.1 329.8 318.2C331.8 324.2 332.8 330.3 334.4 336.3C335.9 342.4 337.2 348.4 338.9 354.5C340.6 360.5 342.7 366.6 344.3 372.6C346 378.7 347.2 384.7 348.9 390.8C350.6 396.8 353.1 402.9 354.3 408.9C355.6 415 355.8 421 356.5 427.1C357.2 433.2 357.7 439.2 358.3 445.3C358.9 451.3 359.6 457.4 360.1 463.4C360.7 469.5 361.1 475.5 361.6 481.6C362.1 487.6 362.5 493.7 363.1 499.7C363.6 505.8 364.2 511.8 364.9 517.9C365.5 523.9 366.1 530 367 536C368 542.1 369.5 548.1 370.7 554.2C371.9 560.3 373.1 566.3 374.3 572.4C375.5 578.4 376.9 585.9 377.9 590.5C379 595.1 379.8 595.4 380.8 600C381.8 604.6 382.8 612.1 383.7 618.2C384.6 624.2 385.6 630.3 386.2 636.3C386.9 642.4 387.2 649.9 387.7 654.5C388.2 659 388.1 660.5 389.3 663.5C390.6 666.6 393.4 668.1 395.3 672.6C397.2 677.2 399.3 684.7 400.8 690.8C402.3 696.8 403.4 702.9 404.4 708.9C405.4 715 406 721 406.6 727.1C407.2 733.2 407.5 739.2 408 745.3C408.6 751.3 408.9 757.4 409.9 763.4C410.8 769.5 412.2 775.5 413.5 781.6C414.7 787.6 416.1 793.7 417.3 799.7C418.5 805.8 419.7 811.8 420.7 817.9C421.8 823.9 422.7 830 423.6 836C424.6 842.1 425.7 848.1 426.6 854.2C427.4 860.3 428.2 866.3 428.9 872.4C429.6 878.4 430.3 885.9 430.7 890.5C431.2 895.1 431.1 895.4 431.8 900C432.4 904.6 433.7 912.1 434.5 918.2C435.3 924.2 435.6 930.3 436.3 936.3C437.1 942.4 437.8 948.4 439 954.5C440.2 960.5 442.2 966.6 443.6 972.6C444.9 978.7 446 984.7 447.2 990.8C448.4 996.8 449.1 1002.9 450.8 1008.9C452.6 1015 455.5 1021 457.7 1027.1C460 1033.2 462.8 1039.2 464.5 1045.3C466.1 1051.3 466.5 1057.4 467.5 1063.4C468.6 1069.5 469.3 1075.5 470.8 1081.6C472.3 1087.6 473.8 1095.2 476.6 1099.7C479.5 1104.3 484.8 1106 488 1108.8C491.2 1111.6 493.5 1113.7 496 1116.5C498.4 1119.3 500.2 1120.3 502.7 1125.4C505.2 1130.6 507.7 1140.3 510.9 1147.2C514.1 1154.2 518.2 1160.6 521.8 1167.2C525.4 1173.9 528.7 1181.1 532.7 1187.2C536.6 1193.2 542.1 1198.7 545.4 1203.5C548.7 1208.4 549.6 1213.5 552.7 1216.2C555.7 1219 560.2 1217.1 563.5 1219.9C566.9 1222.6 569.6 1229.5 572.6 1232.6C575.7 1235.6 576.9 1236.4 581.7 1238C586.5 1239.6 595.6 1240.2 601.7 1242C607.7 1243.8 612 1246.4 618 1248.9C624.1 1251.4 631.9 1253.9 638 1257.1C644 1260.3 648.6 1263.4 654.3 1268.2C660.1 1272.9 666.4 1281.1 672.5 1285.6C678.5 1290.1 686.1 1293.2 690.6 1295.3C695.2 1297.3 696.4 1297.5 699.7 1297.9C703.1 1298.4 706.1 1297.2 710.6 1297.9C715.2 1298.7 722.4 1301.4 727 1302.5C731.5 1303.5 733.3 1302.6 737.9 1304.3C742.4 1306 748.4 1309.4 754.2 1312.5C759.9 1315.5 766.3 1319.4 772.4 1322.5C778.4 1325.5 784.5 1327.4 790.5 1330.6C796.6 1333.8 803.8 1339.3 808.7 1341.5C813.5 1343.7 815 1343.5 819.6 1343.7C824.1 1343.9 831.7 1343.3 835.9 1343C840.1 1342.6 840.4 1343.6 845 1341.5C849.5 1339.5 857.1 1334.7 863.1 1330.6C869.2 1326.5 876.8 1320 881.3 1317C885.8 1314 887.3 1313.9 890.4 1312.5C893.5 1311 895.4 1309.7 900 1308.5C904.6 1307.3 912.1 1306.7 918.2 1305.2C924.2 1303.7 931.2 1301.4 936.3 1299.8C941.5 1298.1 944.5 1297.6 949 1295.2C953.6 1292.8 959.6 1287.7 963.5 1285.2C967.5 1282.8 969.9 1281.6 972.6 1280.7C975.4 1279.8 976.9 1279.2 979.9 1279.8C982.9 1280.4 987.2 1282.7 990.8 1284.3C994.4 1286 997.4 1287.3 1001.7 1289.8C1005.9 1292.2 1011.4 1296 1016.2 1298.8C1021 1301.7 1026.2 1305.2 1030.7 1307C1035.3 1308.8 1039.5 1310 1043.4 1309.7C1047.4 1309.4 1049.5 1306.7 1054.3 1305.2C1059.2 1303.7 1067.7 1302.6 1072.5 1300.7C1077.3 1298.7 1078.8 1295.2 1083.4 1293.4C1087.9 1291.6 1094.6 1291.1 1099.7 1289.8C1104.9 1288.4 1109.7 1286.4 1114.3 1285.2C1118.8 1284 1123 1282.4 1127 1282.5C1130.9 1282.7 1132.7 1285.2 1137.9 1286.1C1143 1287 1150.9 1287.7 1157.8 1288C1164.8 1288.3 1173 1287.7 1179.6 1288C1186.3 1288.3 1191.1 1288.3 1197.8 1289.8C1204.4 1291.3 1213.2 1293.6 1219.6 1297C1225.9 1300.5 1231.7 1307.6 1235.9 1310.6C1240.1 1313.7 1241.1 1313.7 1245 1315.2C1248.9 1316.7 1254.1 1317.5 1259.5 1319.7C1265 1322 1272.5 1325.6 1277.7 1328.8C1282.8 1332 1286.7 1336.1 1290.4 1338.8C1294.1 1341.5 1295.4 1341.7 1300 1345.1C1304.6 1348.6 1312.4 1355.9 1318.2 1359.7C1323.9 1363.5 1328.4 1367.5 1334.5 1367.8C1340.6 1368.2 1348.7 1364.3 1354.5 1361.6C1360.2 1358.9 1363.5 1353.8 1369 1351.9C1374.4 1349.9 1380.5 1350.6 1387.2 1349.9C1393.8 1349.3 1402.6 1348.8 1408.9 1348C1415.3 1347.2 1420.4 1347.3 1425.3 1345.1C1430.1 1343 1433.2 1339.5 1438 1334.9C1442.8 1330.3 1449.5 1322.8 1454.3 1317.3C1459.2 1311.8 1463.7 1305 1467 1301.7C1470.4 1298.3 1470.7 1297.9 1474.3 1297C1477.9 1296.2 1483.7 1295.3 1488.8 1296.3C1494 1297.3 1499.4 1300 1505.2 1303C1510.9 1306 1518.2 1312 1523.3 1314.2C1528.5 1316.4 1531.5 1314.2 1536 1316.2C1540.6 1318.2 1545.4 1322.7 1550.6 1326.2C1555.7 1329.7 1561.5 1334.2 1566.9 1337.1C1572.4 1339.9 1578.4 1341.3 1583.3 1343.4C1588.1 1345.5 1591.1 1349.8 1596 1349.8C1600.8 1349.8 1607.2 1345.5 1612.3 1343.4C1617.4 1341.3 1622.9 1338.4 1626.8 1337.1C1630.8 1335.8 1631.4 1335.8 1635.9 1335.6C1640.4 1335.5 1648.6 1335.3 1654.1 1336.2C1659.5 1337 1662.5 1339.9 1668.6 1340.7C1674.6 1341.5 1685.1 1341.5 1690.4 1340.7C1695.6 1339.9 1696.6 1337.8 1700 1336.2C1703.4 1334.5 1707.3 1331.9 1710.9 1330.7C1714.5 1329.5 1717.6 1328.1 1721.8 1328.9C1726 1329.7 1730.9 1332.4 1736.3 1335.3C1741.8 1338.1 1748.4 1343.1 1754.5 1346.1C1760.5 1349.2 1767.2 1351.1 1772.6 1353.4C1778.1 1355.7 1782.9 1358.1 1787.2 1359.8C1791.4 1361.4 1793.8 1363.2 1798 1363.4C1802.3 1363.5 1807.7 1361.4 1812.6 1360.7C1817.4 1359.9 1822.3 1359.5 1827.1 1358.9C1831.9 1358.3 1838 1358.4 1841.6 1357C1845.3 1355.7 1846.2 1351.9 1848.9 1350.7C1851.6 1349.5 1854 1349.3 1858 1350C1861.9 1350.8 1867.3 1353.6 1872.5 1355C1877.6 1356.3 1883.1 1357.5 1888.8 1358.4C1894.6 1359.2 1902.1 1360.5 1907 1360.1C1911.8 1359.6 1914.6 1356.4 1917.9 1355.5C1921.2 1354.6 1922.4 1354 1927 1354.6C1931.5 1355.2 1939.7 1357.7 1945.1 1359.2C1950.6 1360.7 1954.5 1362 1959.6 1363.7C1964.8 1365.4 1971.6 1367.7 1976 1369.2C1980.4 1370.6 1981.3 1371.5 1986 1372.4C1990.7 1373.3 1998.1 1373.9 2004.2 1374.6C2010.2 1375.3 2017.2 1376.1 2022.3 1376.4C2027.5 1376.7 2030.5 1377 2035 1376.4C2039.6 1375.9 2044.1 1374.2 2049.5 1373.1C2055 1372.1 2061.7 1371 2067.7 1370.1C2073.8 1369.2 2080.7 1367.8 2085.9 1367.7C2091 1367.6 2094.3 1369 2098.6 1369.5C2102.8 1370.1 2106.4 1371.4 2111.3 1371.1C2116.1 1370.7 2121.9 1368.7 2127.6 1367.6C2133.4 1366.4 2140.3 1366 2145.8 1364.1C2151.2 1362.1 2155.5 1357.9 2160.3 1355.9C2165.1 1354 2170.3 1353.3 2174.8 1352.3C2179.4 1351.3 2183.3 1349.5 2187.5 1349.9C2191.8 1350.4 2195.4 1353.8 2200.3 1355C2205.1 1356.2 2211.1 1357.4 2216.6 1357.2C2222 1357.1 2227.8 1355.7 2232.9 1354.1C2238.1 1352.5 2242.6 1349.5 2247.5 1347.8C2252.3 1346 2257.1 1344.7 2262 1343.8C2266.8 1342.9 2271.7 1341.8 2276.5 1342.3C2281.4 1342.8 2286.8 1345.2 2291 1346.9C2295.3 1348.5 2298.6 1350.6 2301.9 1352.3C2305.3 1354 2309.5 1356.1 2311 1356.8"/>
</g>
<text class="t" transform="translate(184.61 1678.2) scale(0.56 0.577)" font-size="100">0</text>
<text class="t" transform="translate(575.04 1678.2) scale(0.56 0.577)" font-size="100">500</text>
<text class="t" transform="translate(981.83 1678.2) scale(0.56 0.577)" font-size="100">1000</text>
<text class="t" transform="translate(1402.63 1678.2) scale(0.56 0.577)" font-size="100">1500</text>
<text class="t" transform="translate(1825.37 1678.2) scale(0.56 0.577)" font-size="100">2000</text>
<text class="t" transform="translate(2246.47 1678.2) scale(0.56 0.577)" font-size="100">2500</text>
<text class="t" transform="translate(150.07 60.6) scale(0.56 0.577)" font-size="100">0</text>
<text class="t" transform="translate(131.59 373.2) scale(0.56 0.577)" font-size="100">-5</text>
<text class="t" transform="translate(100.23 685.8) scale(0.56 0.577)" font-size="100">-10</text>
<text class="t" transform="translate(100.41 998.4) scale(0.56 0.577)" font-size="100">-15</text>
<text class="t" transform="translate(100.23 1311) scale(0.56 0.577)" font-size="100">-20</text>
<text class="t" transform="translate(100.41 1623.6) scale(0.56 0.577)" font-size="100">-25</text>
<text class="t" transform="translate(1143.57 1759.2) scale(0.6201 0.62)" font-size="100">iteration</text>
<text class="t" transform="translate(72.2 968.75) rotate(-90) scale(0.6177 0.65)" font-size="100">NMSD(dB)</text>
<rect x="1237.5" y="71.5" width="1038" height="440" fill="#fff" stroke="#262626" stroke-width="3"/>
<path stroke="#00ffff" stroke-width="9" fill="none" stroke-dasharray="26 5 14 5" d="M1250 119.5H1376"/>
<text y="148.8"><tspan class="lg" x="1385.88" font-size="70.8" textLength="178.51" lengthAdjust="spacingAndGlyphs">APSA</tspan><tspan class="lg" x="1566.66" font-size="68.2" textLength="18.59" lengthAdjust="spacingAndGlyphs">(</tspan><tspan class="m" x="1589.1" dy="1.1" font-size="69.66" textLength="42.17" lengthAdjust="spacingAndGlyphs">μ</tspan><tspan class="e" x="1629.5" dy="2.45" font-size="60.07" textLength="43.99" lengthAdjust="spacingAndGlyphs">=</tspan><tspan class="lg" x="1671.32" dy="-3.55" font-size="66.3" textLength="152.78" lengthAdjust="spacingAndGlyphs">0.08)</tspan></text>
<path stroke="#000000" stroke-width="9" fill="none" d="M1250 205.5H1376"/>
<text y="234.2"><tspan class="lg" x="1384.48" font-size="70.8" textLength="393.74" lengthAdjust="spacingAndGlyphs">MVSS-APSA</tspan><tspan class="lg" x="1780.34" font-size="68.2" textLength="19.22" lengthAdjust="spacingAndGlyphs">(</tspan><tspan class="m" x="1805" dy="1.1" font-size="69.66" textLength="41.95" lengthAdjust="spacingAndGlyphs">μ</tspan><tspan class="lg" x="1847.6" dy="-1.1" font-size="66.3" textLength="36.17" lengthAdjust="spacingAndGlyphs">0</tspan><tspan class="e" x="1882.03" dy="3.55" font-size="60.07" textLength="44.53" lengthAdjust="spacingAndGlyphs">=</tspan><tspan class="lg" x="1924.1" dy="-3.55" font-size="66.3" textLength="116.15" lengthAdjust="spacingAndGlyphs">0.6)</tspan></text>
<path stroke="#0000ff" stroke-width="9" fill="none" stroke-dasharray="26 5 14 5" d="M1250 291.5H1376"/>
<text y="321"><tspan class="lg" x="1385.72" font-size="70.8" textLength="204.67" lengthAdjust="spacingAndGlyphs">H-APA</tspan><tspan class="lg" x="1592.56" font-size="68.2" textLength="18.59" lengthAdjust="spacingAndGlyphs">(</tspan><tspan class="m" x="1617.1" dy="1.1" font-size="69.66" textLength="42.38" lengthAdjust="spacingAndGlyphs">μ</tspan><tspan class="e" x="1657.57" dy="2.45" font-size="60.07" textLength="44.26" lengthAdjust="spacingAndGlyphs">=</tspan><tspan class="lg" x="1699.71" dy="-3.55" font-size="66.3" textLength="153.2" lengthAdjust="spacingAndGlyphs">0.04)</tspan></text>
<path stroke="#ff0000" stroke-width="9" fill="none" d="M1250 377.4H1376"/>
<text y="405.2"><tspan class="lg" x="1386.75" font-size="70.8" textLength="360.88" lengthAdjust="spacingAndGlyphs">VSS-H-APA</tspan><tspan class="lg" x="1749.84" font-size="68.2" textLength="18.21" lengthAdjust="spacingAndGlyphs">(</tspan><tspan class="m" x="1771.65" font-size="64.79" textLength="41.17" lengthAdjust="spacingAndGlyphs">α</tspan><tspan class="e" x="1812.8" dy="3.55" font-size="60.07" textLength="44.79" lengthAdjust="spacingAndGlyphs">=</tspan><tspan class="lg" x="1855.6" dy="-3.55" font-size="66.3" textLength="112.45" lengthAdjust="spacingAndGlyphs">0.1,</tspan><tspan class="m" x="1970.2" dy="1.1" font-size="69.66" textLength="42.38" lengthAdjust="spacingAndGlyphs">μ</tspan><tspan class="lg" x="2012.66" dy="-1.1" font-size="66.3" textLength="36.76" lengthAdjust="spacingAndGlyphs">0</tspan><tspan class="e" x="2046.65" dy="3.55" font-size="60.07" textLength="45.19" lengthAdjust="spacingAndGlyphs">=</tspan><tspan class="lg" x="2089.79" dy="-3.55" font-size="66.3" textLength="116.58" lengthAdjust="spacingAndGlyphs">0.2)</tspan></text>
<path stroke="#00ff00" stroke-width="9" fill="none" d="M1250 463.5H1376"/>
<text y="493"><tspan class="lg" x="1383.87" font-size="70.8" textLength="420.44" lengthAdjust="spacingAndGlyphs">MVSS-H-APA</tspan><tspan class="lg" x="1806.46" font-size="68.2" textLength="18.59" lengthAdjust="spacingAndGlyphs">(</tspan><tspan class="m" x="1828.06" font-size="64.79" textLength="40.97" lengthAdjust="spacingAndGlyphs">α</tspan><tspan class="e" x="1868.95" dy="3.55" font-size="60.07" textLength="45.19" lengthAdjust="spacingAndGlyphs">=</tspan><tspan class="lg" x="1912.12" dy="-3.55" font-size="66.3" textLength="111.91" lengthAdjust="spacingAndGlyphs">0.1,</tspan><tspan class="m" x="2026.2" dy="1.1" font-size="69.66" textLength="41.95" lengthAdjust="spacingAndGlyphs">μ</tspan><tspan class="lg" x="2068.66" dy="-1.1" font-size="66.3" textLength="36.76" lengthAdjust="spacingAndGlyphs">0</tspan><tspan class="e" x="2103.16" dy="3.55" font-size="60.07" textLength="45.06" lengthAdjust="spacingAndGlyphs">=</tspan><tspan class="lg" x="2146.2" dy="-3.55" font-size="66.3" textLength="116.15" lengthAdjust="spacingAndGlyphs">0.2)</tspan></text>
</svg></body></html>
